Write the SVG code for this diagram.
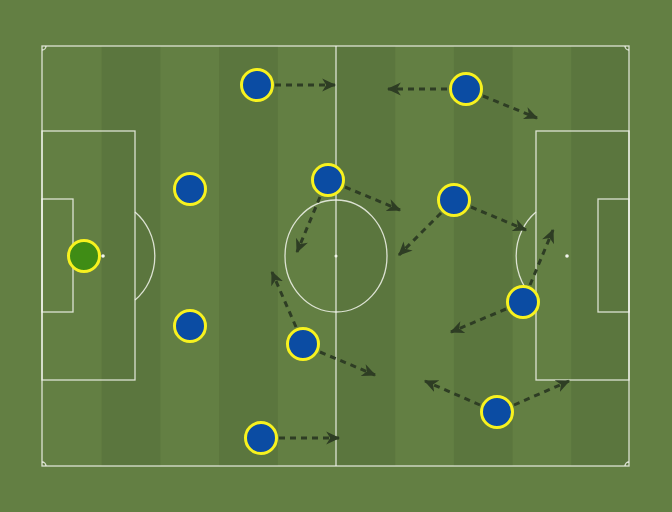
<svg xmlns="http://www.w3.org/2000/svg" width="672" height="512" viewBox="0 0 672 512">
<defs>
<style>
.ln{fill:none;stroke:#f2f4ec;stroke-opacity:0.85;stroke-width:1.3}
.dk{fill:#5b763e}
.ar{fill:none;stroke:#2e3d24;stroke-width:3;stroke-dasharray:6 5;marker-end:url(#ah)}
.pl{fill:#0b4ca3;stroke:#f7f21f;stroke-width:3}
.gk{fill:#3f8c15;stroke:#f7f21f;stroke-width:3}
</style>
<marker id="ah" markerUnits="userSpaceOnUse" markerWidth="14" markerHeight="14" viewBox="0 0 12 12" refX="11" refY="6" orient="auto">
<path d="M0,0.5 L12,6 L0,11.5 L3.5,6 Z" fill="#2e3d24"/>
</marker>
</defs>
<rect width="672" height="512" fill="#637f43"/>
<g id="stripes">
<rect class="dk" x="101.7" y="46" width="58.7" height="420"/>
<rect class="dk" x="219.1" y="46" width="58.7" height="420"/>
<rect class="dk" x="336.5" y="46" width="58.7" height="420"/>
<rect class="dk" x="453.9" y="46" width="58.7" height="420"/>
<rect class="dk" x="571.3" y="46" width="58" height="420"/>
</g>
<g id="pitch">
<rect class="ln" x="42" y="46" width="587" height="420"/>
<line class="ln" x1="336" y1="46" x2="336" y2="466"/>
<ellipse class="ln" cx="336" cy="256" rx="51" ry="56"/>
<circle cx="336" cy="256" r="1.5" fill="#f2f4ec"/>
<rect class="ln" x="42" y="131" width="93" height="249"/>
<rect class="ln" x="42" y="199" width="31" height="113"/>
<circle cx="103" cy="256" r="1.8" fill="#f2f4ec"/>
<path class="ln" d="M135,212 A52,56 0 0 1 135,300"/>
<rect class="ln" x="536" y="131" width="93" height="249"/>
<rect class="ln" x="598" y="199" width="31" height="113"/>
<circle cx="567" cy="256" r="1.8" fill="#f2f4ec"/>
<path class="ln" d="M536,212 A52,56 0 0 0 536,300"/>
<path class="ln" d="M42,50 A4,4 0 0 0 46,46"/>
<path class="ln" d="M625,46 A4,4 0 0 0 629,50"/>
<path class="ln" d="M42,462 A4,4 0 0 1 46,466"/>
<path class="ln" d="M625,466 A4,4 0 0 1 629,462"/>
</g>
<g id="connectors">
<line class="ar" x1="275" y1="85" x2="335" y2="85"/>
<line class="ar" x1="447" y1="89" x2="388" y2="89"/>
<line class="ar" x1="483" y1="96" x2="537" y2="118"/>
<line class="ar" x1="345" y1="187" x2="400" y2="210"/>
<line class="ar" x1="320" y1="197" x2="297" y2="252"/>
<line class="ar" x1="471" y1="207" x2="526" y2="230"/>
<line class="ar" x1="441" y1="213" x2="399" y2="255"/>
<line class="ar" x1="530" y1="285" x2="553" y2="230"/>
<line class="ar" x1="506" y1="309" x2="451" y2="332"/>
<line class="ar" x1="296" y1="327" x2="272" y2="272"/>
<line class="ar" x1="320" y1="352" x2="375" y2="375"/>
<line class="ar" x1="480" y1="405" x2="425" y2="381"/>
<line class="ar" x1="514" y1="405" x2="569" y2="381"/>
<line class="ar" x1="279" y1="438" x2="339" y2="438"/>
</g>
<g id="gk"><circle class="gk" cx="84" cy="256" r="15.5"/></g>
<g id="p2"><circle class="pl" cx="190" cy="189" r="15.5"/></g>
<g id="p3"><circle class="pl" cx="190" cy="326" r="15.5"/></g>
<g id="p4"><circle class="pl" cx="257" cy="85" r="15.5"/></g>
<g id="p5"><circle class="pl" cx="328" cy="180" r="15.5"/></g>
<g id="p6"><circle class="pl" cx="303" cy="344" r="15.5"/></g>
<g id="p7"><circle class="pl" cx="261" cy="438" r="15.5"/></g>
<g id="p8"><circle class="pl" cx="466" cy="89" r="15.5"/></g>
<g id="p9"><circle class="pl" cx="454" cy="200" r="15.5"/></g>
<g id="p10"><circle class="pl" cx="523" cy="302" r="15.5"/></g>
<g id="p11"><circle class="pl" cx="497" cy="412" r="15.5"/></g>
</svg>
